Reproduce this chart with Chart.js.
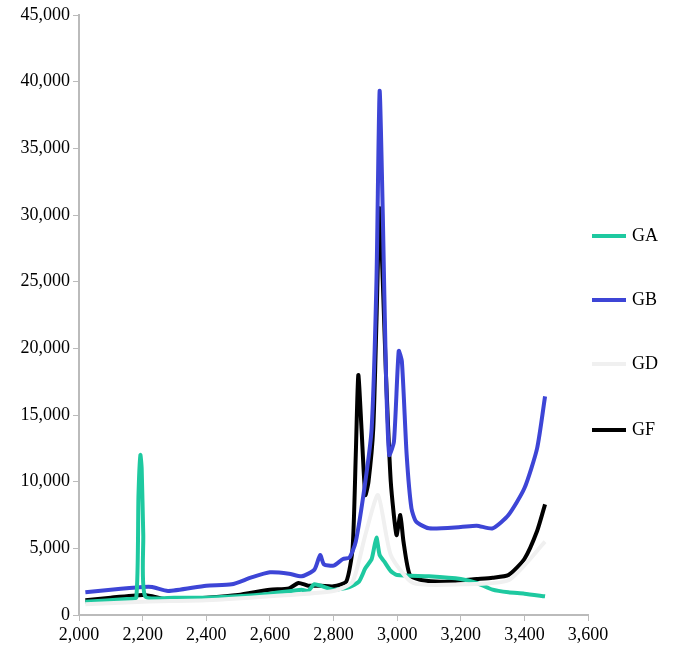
<!DOCTYPE html>
<html><head><meta charset="utf-8">
<script src="https://cdn.jsdelivr.net/npm/chart.js@4/dist/chart.umd.min.js"></script>
<style>
body{margin:0;background:#fff}
#wrap{position:relative;width:679px;height:663px}
.lg{position:absolute;left:592px;font:18px 'Liberation Serif',serif;display:flex;align-items:center}
.lg span{display:inline-block;width:34px;height:4px;margin-right:6px}
</style></head><body>
<div id="wrap"><canvas id="c" width="679" height="663"></canvas></div>
<script>
const seriesNames=['GA','GB','GD','GF'];
const seriesColors=['#1ec9a0','#3d45d6','#f0f0f0','#000000'];
const gaX=[2020,2150,2180,2187,2193,2197,2202,2208,2300,2400,2500,2600,2700,2720,2740,2800,2850,2880,2900,2920,2935,2945,2960,2980,3000,3100,3200,3250,3300,3350,3400,3465];
const gaY=[1000,1200,1300,9000,12000,11000,6000,1400,1300,1300,1400,1600,1900,1800,2300,1900,2100,2500,3500,4200,5800,4500,4000,3300,3000,2900,2700,2400,1900,1700,1600,1400];
const gbX=[2020,2100,2200,2230,2280,2400,2480,2540,2600,2660,2700,2740,2758,2770,2800,2830,2850,2870,2900,2920,2935,2945,2955,2965,2975,2990,3005,3015,3030,3045,3060,3100,3200,3250,3300,3350,3400,3440,3465];
const gbY=[1700,1900,2100,2100,1800,2200,2300,2800,3200,3100,2900,3400,4500,3800,3700,4200,4300,5500,10000,14000,25000,39300,30000,18000,12000,13000,19800,19000,12000,8000,7000,6500,6600,6700,6500,7500,9500,12500,16400];
const gdX=[2020,2200,2400,2600,2800,2860,2900,2940,2980,3050,3200,3350,3465];
const gdY=[800,1000,1100,1400,1800,2500,6000,9000,4500,2400,2300,2600,5500];
const gfX=[2020,2100,2200,2230,2280,2400,2500,2600,2660,2690,2720,2760,2800,2840,2860,2870,2878,2888,2900,2910,2925,2935,2945,2955,2965,2980,2998,3010,3020,3040,3080,3150,3250,3300,3350,3400,3440,3465];
const gfY=[1100,1300,1500,1400,1150,1300,1500,1900,2000,2400,2200,2200,2150,2500,5000,12000,18000,14000,9000,10000,14000,22000,30500,25000,18000,10000,6000,7500,5500,3000,2600,2500,2700,2800,3000,4200,6300,8300];
const xTicks=[2000,3600,200];
const yTicks=[0,45000,5000];
const allX=[gaX,gbX,gdX,gfX],allY=[gaY,gbY,gdY,gfY];

const datasets=seriesNames.map((n,i)=>({
  label:n,
  data:allX[i].map((x,j)=>({x,y:allY[i][j]})),
  borderColor:seriesColors[i],borderWidth:4,pointRadius:0,tension:0.2,fill:false
}));
const ax={color:'#bbb',drawOnChartArea:false,drawTicks:true,tickLength:6};
const font={family:"'Liberation Serif',serif",size:18};
new Chart(document.getElementById('c'),{
  type:'line',
  data:{datasets:[datasets[2],datasets[0],datasets[1],datasets[3]]},
  options:{
    responsive:false,animation:false,
    layout:{padding:{top:15,right:91,left:0,bottom:0}},
    plugins:{legend:{display:false},tooltip:{enabled:false}},
    scales:{
      x:{type:'linear',min:xTicks[0],max:xTicks[1],
        ticks:{stepSize:xTicks[2],color:'#000',font,maxRotation:0},
        grid:ax,border:{color:'#bbb',width:2},
        afterFit:s=>{s.height=48}},
      y:{min:yTicks[0],max:yTicks[1],
        ticks:{stepSize:yTicks[2],color:'#000',font},
        grid:ax,border:{color:'#bbb',width:2},
        afterFit:s=>{s.width=79}}
    }
  }
});
const legTop=[236,300,364,430];
seriesNames.forEach((n,i)=>{
  const d=document.createElement('div');d.className='lg';d.style.top=(legTop[i]-11)+'px';
  d.innerHTML=`<span style="background:${seriesColors[i]}"></span>${n}`;
  document.getElementById('wrap').appendChild(d);
});
</script></body></html>
